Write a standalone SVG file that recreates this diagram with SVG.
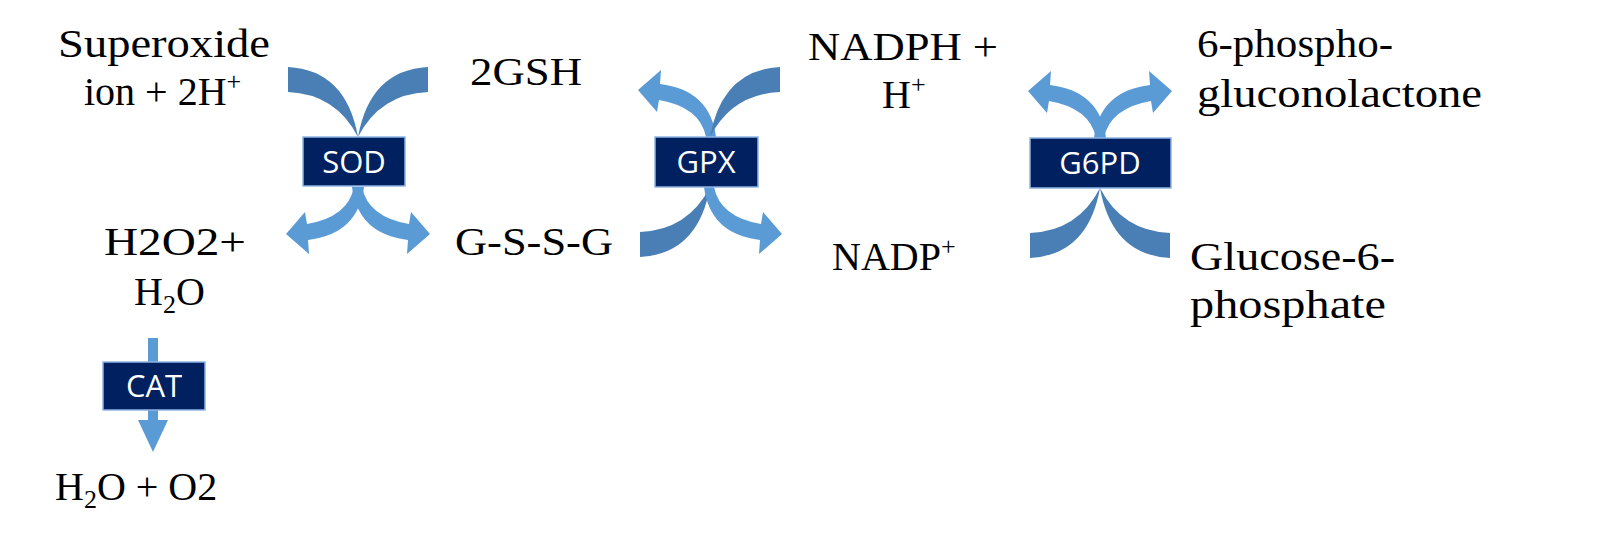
<svg xmlns="http://www.w3.org/2000/svg" width="1600" height="546" viewBox="0 0 1600 546">
<style>
.t{font-family:"Liberation Serif","DejaVu Serif",serif;font-size:40px;fill:#000}
.b{fill:#002060;stroke:#8eb4e3;stroke-width:1.5}
.bt{font-family:"Open Sans","Liberation Sans",sans-serif;font-size:31px;fill:#fff;text-anchor:middle}
.tail{fill:#4a7fb5}
.arr{fill:#5b9bd5}
</style>
<defs>
<path id="tail" d="M -70,-95 Q -12,-92 0,-25 Q -22,-68 -70,-70 Z"/>
<path id="arrow" d="M -4,25 Q -10,55 -51,62 L -53,50 L -72,72 L -49,92 L -50,78 Q 0,72 6,25 Z"/>
</defs>
<rect width="1600" height="546" fill="#fff"/>
<g id="connectors">
<use href="#tail" class="tail" transform="translate(358,162)"/>
<use href="#tail" class="tail" transform="translate(358,162) scale(-1,1)"/>
<use href="#arrow" class="arr" transform="translate(358,162)"/>
<use href="#arrow" class="arr" transform="translate(358,162) scale(-1,1)"/>
<use href="#arrow" class="arr" transform="translate(710,162) scale(1,-1)"/>
<use href="#tail" class="tail" transform="translate(710,162) scale(-1,1)"/>
<use href="#tail" class="tail" transform="translate(710,162) scale(1,-1)"/>
<use href="#arrow" class="arr" transform="translate(710,162) scale(-1,1)"/>
<use href="#arrow" class="arr" transform="translate(1100,163) scale(1,-1)"/>
<use href="#arrow" class="arr" transform="translate(1100,163) scale(-1,-1)"/>
<use href="#tail" class="tail" transform="translate(1100,163) scale(1,-1)"/>
<use href="#tail" class="tail" transform="translate(1100,163) scale(-1,-1)"/>
<path class="arr" d="M148,338 H158 V420 H168 L153,452 L138,420 H148 Z"/>
</g>
<g id="SOD"><rect class="b" x="303" y="137" width="102" height="49"/><text class="bt" x="354" y="173">SOD</text></g>
<g id="GPX"><rect class="b" x="655" y="137" width="103" height="50"/><text class="bt" x="706" y="173">GPX</text></g>
<g id="G6PD"><rect class="b" x="1030" y="138" width="141" height="50"/><text class="bt" x="1100" y="174">G6PD</text></g>
<g id="CAT"><rect class="b" x="103" y="362" width="102" height="48"/><text class="bt" x="154" y="397">CAT</text></g>
<g id="labels" lengthAdjust="spacingAndGlyphs">
<text class="t" x="58" y="57" textLength="212" lengthAdjust="spacingAndGlyphs">Superoxide</text>
<text class="t" x="84" y="105">ion + 2H<tspan font-size="26" dy="-15">+</tspan></text>
<text class="t" x="470" y="85" textLength="112" lengthAdjust="spacingAndGlyphs">2GSH</text>
<text class="t" x="808" y="60" textLength="190" lengthAdjust="spacingAndGlyphs">NADPH +</text>
<text class="t" x="882" y="108">H<tspan font-size="26" dy="-15">+</tspan></text>
<text class="t" x="1197" y="57" textLength="196" lengthAdjust="spacingAndGlyphs">6-phospho-</text>
<text class="t" x="1197" y="107" textLength="285" lengthAdjust="spacingAndGlyphs">gluconolactone</text>
<text class="t" x="104" y="255" textLength="142" lengthAdjust="spacingAndGlyphs">H2O2+</text>
<text class="t" x="134" y="305">H<tspan font-size="26" dy="8">2</tspan><tspan dy="-8">O</tspan></text>
<text class="t" x="455" y="255" textLength="158" lengthAdjust="spacingAndGlyphs">G-S-S-G</text>
<text class="t" x="832" y="270">NADP<tspan font-size="26" dy="-15">+</tspan></text>
<text class="t" x="1190" y="270" textLength="205" lengthAdjust="spacingAndGlyphs">Glucose-6-</text>
<text class="t" x="1190" y="318" textLength="196" lengthAdjust="spacingAndGlyphs">phosphate</text>
<text class="t" x="55" y="500">H<tspan font-size="26" dy="8">2</tspan><tspan dy="-8">O + O2</tspan></text>
</g>
</svg>
